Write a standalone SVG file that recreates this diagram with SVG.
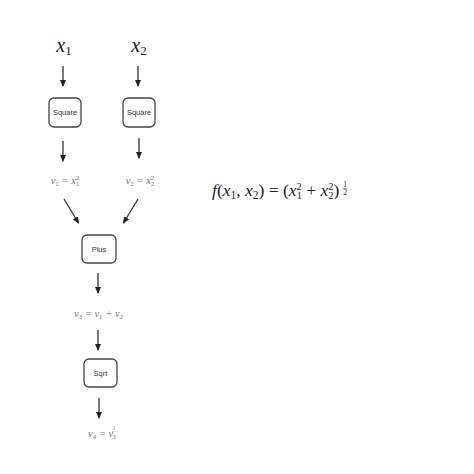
<svg xmlns="http://www.w3.org/2000/svg" width="474" height="474" viewBox="0 0 474 474">
<style>
.box{fill:#fff;stroke:#444;stroke-width:1.3}
.bt{font-family:"Liberation Sans",Arial,sans-serif;font-size:7.5px;fill:#333;text-anchor:middle}
.m{font-family:"Liberation Serif","Times New Roman",serif;font-style:italic;fill:#222}
.lab{font-family:"Liberation Serif","Times New Roman",serif;font-style:italic;font-size:10.5px;fill:#777;text-anchor:middle}
.sub{font-size:7px;font-style:normal}
.up{font-size:7px;font-style:normal}
.fr{font-family:"Liberation Serif","Times New Roman",serif;font-style:normal;text-anchor:middle}
.c{stroke:#333;stroke-width:1.3;fill:none;marker-end:url(#ah)}
</style>
<defs>
<marker id="ah" markerWidth="8" markerHeight="8" refX="6" refY="3" orient="auto" markerUnits="userSpaceOnUse">
<path d="M0,0 L7,3 L0,6 Z" fill="#222"/>
</marker>
</defs>
<rect width="474" height="474" fill="#fff"/>
<g id="in1"><text class="m" x="64" y="52" font-size="20" text-anchor="middle">x<tspan font-style="normal" font-size="13" dy="3">1</tspan></text></g>
<g id="in2"><text class="m" x="139" y="52" font-size="20" text-anchor="middle">x<tspan font-style="normal" font-size="13" dy="3">2</tspan></text></g>
<g id="sq1"><rect class="box" x="49" y="98" width="32" height="29" rx="5"/><text class="bt" x="65" y="115">Square</text></g>
<g id="sq2"><rect class="box" x="123" y="98" width="32" height="29" rx="5"/><text class="bt" x="139" y="115">Square</text></g>
<g id="v1"><text class="lab" x="65" y="184">v<tspan class="sub" dy="2">1</tspan><tspan dy="-2"> = x</tspan><tspan class="up" dy="-4.5">2</tspan><tspan class="sub" dx="-3.5" dy="6.5">1</tspan></text></g>
<g id="v2"><text class="lab" x="140" y="184">v<tspan class="sub" dy="2">2</tspan><tspan dy="-2"> = x</tspan><tspan class="up" dy="-4.5">2</tspan><tspan class="sub" dx="-3.5" dy="6.5">2</tspan></text></g>
<g id="plus"><rect class="box" x="82" y="235" width="34" height="28" rx="5"/><text class="bt" x="99" y="252">Plus</text></g>
<g id="v3"><text class="lab" x="98.5" y="317">v<tspan class="sub" dy="2">3</tspan><tspan dy="-2"> = v</tspan><tspan class="sub" dy="2">1</tspan><tspan dy="-2"> + v</tspan><tspan class="sub" dy="2">2</tspan></text></g>
<g id="sqrt"><rect class="box" x="84" y="359" width="33" height="28" rx="5"/><text class="bt" x="100.5" y="376">Sqrt</text></g>
<g id="v4"><text class="lab" x="88" y="437" style="text-anchor:start">v<tspan class="sub" dy="2">4</tspan><tspan dy="-2"> = v</tspan></text>
<text class="fr" x="114" y="429.5" font-size="5.5" fill="#777">1</text>
<text class="fr" x="114" y="438.5" font-size="5.5" fill="#777">3</text>
<line x1="112.3" y1="431.8" x2="115.7" y2="431.8" stroke="#777" stroke-width="0.4"/></g>
<g id="formula"><text class="m" x="212" y="196" font-size="17.5">f<tspan font-style="normal">(</tspan>x<tspan font-style="normal" font-size="11.5" dy="2.5">1</tspan><tspan font-style="normal" dy="-2.5">, </tspan>x<tspan font-style="normal" font-size="11.5" dy="2.5">2</tspan><tspan font-style="normal" dy="-2.5">) = (</tspan>x<tspan font-style="normal" font-size="10.5" dy="-6.5">2</tspan><tspan font-style="normal" font-size="10.5" dx="-5.2" dy="9.5">1</tspan><tspan font-style="normal" dy="-3"> + </tspan>x<tspan font-style="normal" font-size="10.5" dy="-6.5">2</tspan><tspan font-style="normal" font-size="10.5" dx="-5.2" dy="9.5">2</tspan><tspan font-style="normal" dy="-3">)</tspan></text>
<text class="fr" x="345" y="186.5" font-size="7.5" fill="#222">1</text>
<text class="fr" x="345" y="195" font-size="7.5" fill="#222">2</text>
<line x1="342.5" y1="188.6" x2="347.5" y2="188.6" stroke="#222" stroke-width="0.5"/></g>
<g id="connectors">
<line class="c" x1="63" y1="66" x2="63" y2="86"/>
<line class="c" x1="138" y1="66" x2="138" y2="86"/>
<line class="c" x1="63" y1="141" x2="63" y2="161"/>
<line class="c" x1="139" y1="138" x2="139" y2="158"/>
<line class="c" x1="64" y1="199" x2="78.5" y2="223"/>
<line class="c" x1="138" y1="199" x2="123.5" y2="223"/>
<line class="c" x1="98" y1="273" x2="98" y2="293"/>
<line class="c" x1="98" y1="330" x2="98" y2="350"/>
<line class="c" x1="99" y1="398" x2="99" y2="418"/>
</g>
</svg>
